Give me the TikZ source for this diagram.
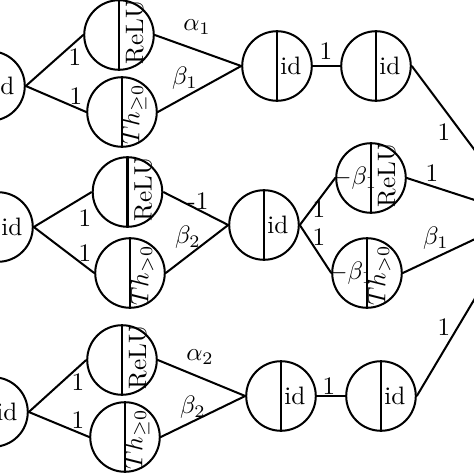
\documentclass[tikz,border=0pt]{standalone}
\begin{document}
\begin{tikzpicture}[
    x=0.3966pt, y=-0.3966pt,
    unit/.style={circle, draw, line width=0.8pt, minimum size=27.6pt, inner sep=0pt,
        path picture={\draw[line width=0.8pt] (path picture bounding box.north) -- (path picture bounding box.south);}},
    fnrot/.style={rotate=90, inner sep=0pt, anchor=center},
    fnid/.style={inner sep=0pt},
    wt/.style={inner sep=0pt},
    conn/.style={line width=0.8pt}
]
\useasboundingbox (0,0) rectangle (474,474);
\clip (0,0) rectangle (474,474);
% top row
\node[unit] (idA)   at (-10,86)   {};
\node[unit] (reluA) at (119,35)   {};
\node[unit] (thA)   at (122,112)  {};
\node[unit] (idB)   at (277,66)   {};
\node[unit] (idC)   at (376,66)   {};
% middle row
\node[unit] (idD)   at (-2,227)   {};
\node[unit] (reluB) at (127.5,192) {};
\node[unit] (thB)   at (130,273)  {};
\node[unit] (idE)   at (264,225)  {};
\node[unit] (reluC) at (371,178)  {};
\node[unit] (thC)   at (367,273)  {};
% bottom row
\node[unit] (idF)   at (-7,412)   {};
\node[unit] (reluD) at (122,360)  {};
\node[unit] (thD)   at (125,437)  {};
\node[unit] (idG)   at (281,396)  {};
\node[unit] (idH)   at (381,396)  {};
\coordinate (out) at (524,216);
% texts in the units
\node[fnid] (idAt) at ([xshift=5.5pt]idA.center) {id};
\node[fnid] (idBt) at ([xshift=5.5pt]idB.center) {id};
\node[fnid] (idCt) at ([xshift=5.5pt]idC.center) {id};
\node[fnid] (idDt) at ([xshift=5.5pt]idD.center) {id};
\node[fnid] (idEt) at ([xshift=5.5pt]idE.center) {id};
\node[fnid] (idFt) at ([xshift=5.5pt]idF.center) {id};
\node[fnid] (idGt) at ([xshift=5.5pt]idG.center) {id};
\node[fnid] (idHt) at ([xshift=5.5pt]idH.center) {id};
\node[fnrot] (reluAt) at ([xshift=6.3pt,yshift=1.2pt]reluA.center) {ReLU};
\node[fnrot] (reluBt) at ([xshift=6.3pt,yshift=1.2pt]reluB.center) {ReLU};
\node[fnrot] (reluCt) at ([xshift=6.3pt,yshift=1.2pt]reluC.center) {ReLU};
\node[fnrot] (reluDt) at ([xshift=6.3pt,yshift=1.2pt]reluD.center) {ReLU};
\node[fnrot] (thAt) at ([xshift=4.8pt,yshift=-1pt]thA.center) {$Th_{\geq 0}$};
\node[fnrot] (thBt) at ([xshift=4.8pt,yshift=-1pt]thB.center) {$Th_{>0}$};
\node[fnrot] (thCt) at ([xshift=4.8pt,yshift=-1pt]thC.center) {$Th_{>0}$};
\node[fnrot] (thDt) at ([xshift=4.8pt,yshift=-1pt]thD.center) {$Th_{\geq 0}$};
\node[fnid] (biasC) at ([xshift=-6.5pt]reluC.center) {$-\beta_1$};
\node[fnid] (biasD) at ([xshift=-6.5pt]thC.center) {$-\beta_1$};
% connections
\draw[conn] (idA.east) -- (reluA.west);
\draw[conn] (idA.east) -- (thA.west);
\draw[conn] (reluA.east) -- (idB.west);
\draw[conn] (thA.east) -- (idB.west);
\draw[conn] (idB) -- (idC);
\draw[conn] (idC.east) -- (out);
\draw[conn] (idD.east) -- (reluB.west);
\draw[conn] (idD.east) -- (thB.west);
\draw[conn] (reluB.east) -- (idE.west);
\draw[conn] (thB.east) -- (idE.west);
\draw[conn] (idE.east) -- (reluC.west);
\draw[conn] (idE.east) -- (thC.west);
\draw[conn] (reluC.east) -- (out);
\draw[conn] (thC.east) -- (out);
\draw[conn] (idF.east) -- (reluD.west);
\draw[conn] (idF.east) -- (thD.west);
\draw[conn] (reluD.east) -- (idG.west);
\draw[conn] (thD.east) -- (idG.west);
\draw[conn] (idG) -- (idH);
\draw[conn] (idH.east) -- (out);
% weights
\node[wt] (w1)  at (75,57)   {1};
\node[wt] (w2)  at (76,96)   {1};
\node[wt] (w3)  at (197,27)  {$\alpha_1$};
\node[wt] (w4)  at (185,78)  {$\beta_1$};
\node[wt] (w5)  at (326,51)  {1};
\node[wt] (w6)  at (444,132) {1};
\node[wt] (w7)  at (85,218)  {1};
\node[wt] (w8)  at (85,253)  {1};
\node[wt] (w9)  at (198,201) {-1};
\node[wt] (w10) at (188,237) {$\beta_2$};
\node[wt] (w11) at (319,209) {1};
\node[wt] (w12) at (319,237) {1};
\node[wt] (w13) at (432,173) {1};
\node[wt] (w14) at (436,238) {$\beta_1$};
\node[wt] (w15) at (78,382)  {1};
\node[wt] (w16) at (78,420)  {1};
\node[wt] (w17) at (200,357) {$\alpha_2$};
\node[wt] (w18) at (193,407) {$\beta_2$};
\node[wt] (w19) at (329,386) {1};
\node[wt] (w20) at (444,327) {1};
\end{tikzpicture}
\end{document}
